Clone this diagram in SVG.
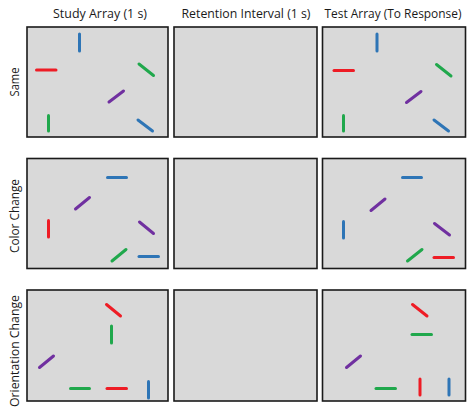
<svg xmlns="http://www.w3.org/2000/svg" width="474" height="412" viewBox="0 0 474 412">
<style>
.bg{fill:#ffffff}
.box{fill:#d9d9d9;stroke:#1a1a1a;stroke-width:1.6}
.t{font-family:"Open Sans","Noto Sans",sans-serif;font-size:13px;fill:#1a1a1a}
.b{stroke-width:3;stroke-linecap:round;fill:none}
.bl{stroke:#2e75b6}
.rd{stroke:#ee1c25}
.gr{stroke:#20a84c}
.pu{stroke:#7030a0}
</style>
<rect class="bg" x="0" y="0" width="474" height="412"/>
<g id="headers">
<text class="t" x="100" y="18" text-anchor="middle" textLength="94" lengthAdjust="spacingAndGlyphs">Study Array (1 s)</text>
<text class="t" x="246" y="18" text-anchor="middle" textLength="129" lengthAdjust="spacingAndGlyphs">Retention Interval (1 s)</text>
<text class="t" x="393" y="18" text-anchor="middle" textLength="137" lengthAdjust="spacingAndGlyphs">Test Array (To Response)</text>
</g>
<g id="rowlabels">
<text class="t" transform="translate(18.5,82) rotate(-90)" text-anchor="middle" textLength="29" lengthAdjust="spacingAndGlyphs">Same</text>
<text class="t" transform="translate(18.5,216) rotate(-90)" text-anchor="middle" textLength="74" lengthAdjust="spacingAndGlyphs">Color Change</text>
<text class="t" transform="translate(18.5,351) rotate(-90)" text-anchor="middle" textLength="112" lengthAdjust="spacingAndGlyphs">Orientation Change</text>
</g>
<g id="same-study">
<rect class="box" x="27" y="27" width="141" height="110"/>
<line class="b bl" x1="79.5" y1="34" x2="79.5" y2="51"/>
<line class="b rd" x1="36.5" y1="70" x2="56" y2="70"/>
<line class="b gr" x1="139" y1="64" x2="153.5" y2="75.5"/>
<line class="b pu" x1="109" y1="102" x2="123.5" y2="91"/>
<line class="b gr" x1="48.5" y1="115.5" x2="48.5" y2="131"/>
<line class="b bl" x1="138" y1="120" x2="152.5" y2="131"/>
</g>
<g id="same-retention">
<rect class="box" x="174" y="27" width="143" height="110"/>
</g>
<g id="same-test">
<rect class="box" x="322.5" y="27" width="143" height="110"/>
<line class="b bl" x1="377" y1="34" x2="377" y2="51"/>
<line class="b rd" x1="334" y1="70.5" x2="353.5" y2="70.5"/>
<line class="b gr" x1="436.5" y1="64.5" x2="451" y2="76"/>
<line class="b pu" x1="406.5" y1="102.5" x2="421" y2="91.5"/>
<line class="b gr" x1="343.5" y1="115.5" x2="343.5" y2="131"/>
<line class="b bl" x1="434" y1="120" x2="448.5" y2="131"/>
</g>
<g id="color-study">
<rect class="box" x="27" y="158.5" width="141" height="110"/>
<line class="b bl" x1="107.5" y1="177.5" x2="126.5" y2="177.5"/>
<line class="b pu" x1="75.5" y1="209" x2="89.5" y2="197.5"/>
<line class="b rd" x1="48.5" y1="220.5" x2="48.5" y2="237"/>
<line class="b pu" x1="139.5" y1="222" x2="153.5" y2="233.5"/>
<line class="b gr" x1="112" y1="261" x2="126" y2="249.5"/>
<line class="b bl" x1="139" y1="256.5" x2="158.5" y2="256.5"/>
</g>
<g id="color-retention">
<rect class="box" x="174" y="158.5" width="143" height="110"/>
</g>
<g id="color-test">
<rect class="box" x="322.5" y="158.5" width="143" height="110"/>
<line class="b bl" x1="402.5" y1="177.5" x2="421.5" y2="177.5"/>
<line class="b pu" x1="371" y1="210.5" x2="385" y2="199"/>
<line class="b bl" x1="343.5" y1="221.5" x2="343.5" y2="238"/>
<line class="b pu" x1="434.5" y1="223.5" x2="449.5" y2="235"/>
<line class="b gr" x1="407.5" y1="261" x2="422" y2="249.5"/>
<line class="b rd" x1="434" y1="257.5" x2="453.5" y2="257.5"/>
</g>
<g id="orient-study">
<rect class="box" x="27" y="290" width="141" height="111"/>
<line class="b rd" x1="106.5" y1="304.5" x2="120.5" y2="316"/>
<line class="b gr" x1="111.5" y1="326" x2="111.5" y2="343"/>
<line class="b pu" x1="39.5" y1="367.5" x2="53.5" y2="356"/>
<line class="b gr" x1="70.5" y1="388.5" x2="89.5" y2="388.5"/>
<line class="b rd" x1="107" y1="388.5" x2="126.5" y2="388.5"/>
<line class="b bl" x1="148.5" y1="381.5" x2="148.5" y2="398"/>
</g>
<g id="orient-retention">
<rect class="box" x="174" y="290" width="143" height="111"/>
</g>
<g id="orient-test">
<rect class="box" x="322.5" y="290" width="143" height="111"/>
<line class="b rd" x1="412.5" y1="304.5" x2="427" y2="316"/>
<line class="b gr" x1="412" y1="334.5" x2="431.5" y2="334.5"/>
<line class="b pu" x1="346.5" y1="367.5" x2="360.5" y2="356"/>
<line class="b gr" x1="376" y1="388.5" x2="395.5" y2="388.5"/>
<line class="b rd" x1="420" y1="379" x2="420" y2="395"/>
<line class="b bl" x1="449" y1="379" x2="449" y2="395"/>
</g>
</svg>
